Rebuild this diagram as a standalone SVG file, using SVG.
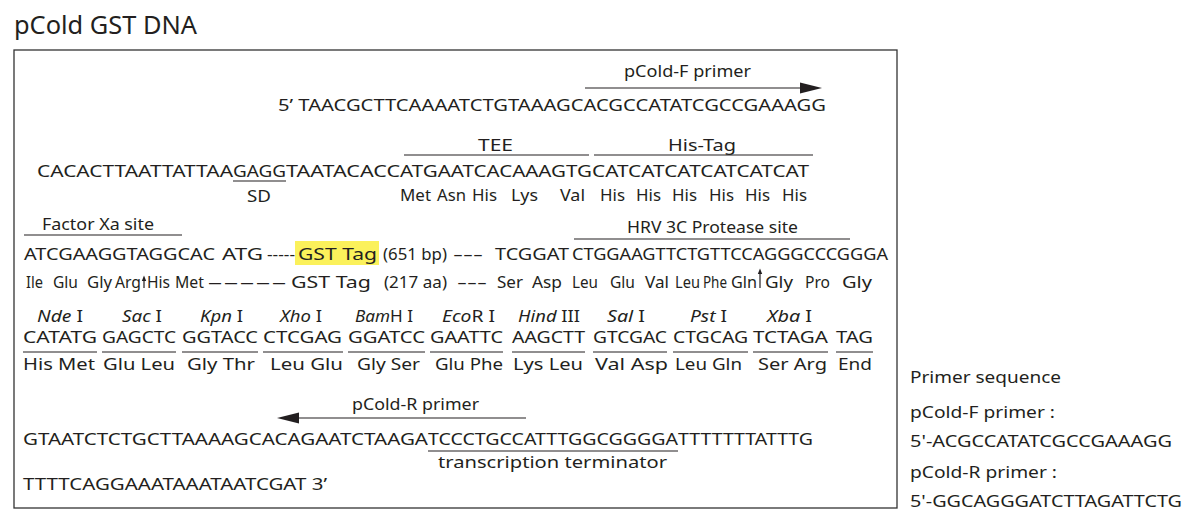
<svg xmlns="http://www.w3.org/2000/svg" width="1187" height="525" viewBox="0 0 1187 525">
<style>
text{font-family:"Noto Sans","Open Sans",sans-serif;font-size:17px;fill:#231f20}
.title{font-size:25px}
.ln{stroke:#231f20;stroke-width:1.2;fill:none}
.fr{stroke:#333;stroke-width:1.3;fill:none}
.it{font-style:italic}
.hl{fill:#fbf15b}
.ah{fill:#231f20}
</style>
<rect width="1187" height="525" fill="#fff"/>
<text class="title" x="14" y="34" textLength="183" lengthAdjust="spacingAndGlyphs">pCold GST DNA</text>
<rect id="frame" class="fr" x="14" y="50" width="883" height="458"/>

<g id="connectors">
  <path class="ln" d="M585 88H802"/>
  <polygon class="ah" points="800,82.5 822,88 800,93.5"/>
  <path class="ln" d="M297 418H526"/>
  <polygon class="ah" points="299,412.5 277,418 299,423.5"/>
  <path class="ln" d="M404 155H589M594 155H813"/>
  <path class="ln" d="M233 181H286"/>
  <path class="ln" d="M24 235H182M574 239H850"/>
  <path class="ln" d="M144 288V279M760 288V272"/>
  <polygon class="ah" points="141.8,281 144,275.5 146.2,281"/>
  <polygon class="ah" points="757.8,274 760,268.5 762.2,274"/>
  <path class="ln" d="M23 352H97M102 352H176M182 352H258M263 352H343M348 352H425M430 352H503M512 352H585M593 352H667M673 352H748M753 352H828M836 352H873"/>
  <path class="ln" d="M428 451H678"/>
</g>

<g id="line1">
  <text x="624" y="77" textLength="127" lengthAdjust="spacingAndGlyphs">pCold-F primer</text>
  <text x="278" y="111" textLength="548" lengthAdjust="spacingAndGlyphs">5’ TAACGCTTCAAAATCTGTAAAGCACGCCATATCGCCGAAAGG</text>
</g>

<g id="line2">
  <text x="478" y="151" textLength="35" lengthAdjust="spacingAndGlyphs">TEE</text>
  <text x="668" y="151" textLength="68" lengthAdjust="spacingAndGlyphs">His-Tag</text>
  <text x="37" y="177" textLength="196" lengthAdjust="spacingAndGlyphs">CACACTTAATTATTAA</text>
  <text x="233" y="177" textLength="53" lengthAdjust="spacingAndGlyphs">GAGG</text>
  <text x="286" y="177" textLength="114" lengthAdjust="spacingAndGlyphs">TAATACACC</text>
  <text x="400" y="177" textLength="192" lengthAdjust="spacingAndGlyphs">ATGAATCACAAAGTG</text>
  <text x="592" y="177" textLength="217" lengthAdjust="spacingAndGlyphs">CATCATCATCATCATCAT</text>
  <text x="247" y="202" textLength="24" lengthAdjust="spacingAndGlyphs">SD</text>
  <text x="400" y="201" textLength="31" lengthAdjust="spacingAndGlyphs">Met</text>
  <text x="437" y="201" textLength="29" lengthAdjust="spacingAndGlyphs">Asn</text>
  <text x="472" y="201" textLength="25" lengthAdjust="spacingAndGlyphs">His</text>
  <text x="511" y="201" textLength="27" lengthAdjust="spacingAndGlyphs">Lys</text>
  <text x="560" y="201" textLength="25" lengthAdjust="spacingAndGlyphs">Val</text>
  <text x="600" y="201" textLength="25" lengthAdjust="spacingAndGlyphs">His</text>
  <text x="636" y="201" textLength="25" lengthAdjust="spacingAndGlyphs">His</text>
  <text x="672" y="201" textLength="25" lengthAdjust="spacingAndGlyphs">His</text>
  <text x="709" y="201" textLength="25" lengthAdjust="spacingAndGlyphs">His</text>
  <text x="745" y="201" textLength="25" lengthAdjust="spacingAndGlyphs">His</text>
  <text x="782" y="201" textLength="25" lengthAdjust="spacingAndGlyphs">His</text>
</g>

<g id="line3">
  <text x="42" y="230" textLength="112" lengthAdjust="spacingAndGlyphs">Factor Xa site</text>
  <text x="627" y="233" textLength="171" lengthAdjust="spacingAndGlyphs">HRV 3C Protease site</text>
  <rect class="hl" x="295" y="241" width="84" height="24"/>
  <text x="24" y="260" textLength="191" lengthAdjust="spacingAndGlyphs">ATCGAAGGTAGGCAC</text>
  <text x="222" y="260" textLength="41" lengthAdjust="spacingAndGlyphs">ATG</text>
  <text x="267" y="260" textLength="28" lengthAdjust="spacingAndGlyphs">-----</text>
  <text x="298" y="260" textLength="79" lengthAdjust="spacingAndGlyphs">GST Tag</text>
  <text x="383" y="260" textLength="64" lengthAdjust="spacingAndGlyphs">(651 bp)</text>
  <text x="453" y="260" textLength="30" lengthAdjust="spacingAndGlyphs">---</text>
  <text x="495" y="260" textLength="74" lengthAdjust="spacingAndGlyphs">TCGGAT</text>
  <text x="572" y="260" textLength="316" lengthAdjust="spacingAndGlyphs">CTGGAAGTTCTGTTCCAGGGCCCGGGA</text>
  <text x="26" y="288" textLength="17" lengthAdjust="spacingAndGlyphs">Ile</text>
  <text x="53" y="288" textLength="25" lengthAdjust="spacingAndGlyphs">Glu</text>
  <text x="87" y="288" textLength="25" lengthAdjust="spacingAndGlyphs">Gly</text>
  <text x="115" y="288" textLength="26" lengthAdjust="spacingAndGlyphs">Arg</text>
  <text x="147" y="288" textLength="23" lengthAdjust="spacingAndGlyphs">His</text>
  <text x="175" y="288" textLength="29" lengthAdjust="spacingAndGlyphs">Met</text>
  <text x="207" y="288" textLength="80" lengthAdjust="spacingAndGlyphs">-----</text>
  <text x="291" y="288" textLength="80" lengthAdjust="spacingAndGlyphs">GST Tag</text>
  <text x="384" y="288" textLength="63" lengthAdjust="spacingAndGlyphs">(217 aa)</text>
  <text x="457" y="288" textLength="30" lengthAdjust="spacingAndGlyphs">---</text>
  <text x="497" y="288" textLength="26" lengthAdjust="spacingAndGlyphs">Ser</text>
  <text x="532" y="288" textLength="30" lengthAdjust="spacingAndGlyphs">Asp</text>
  <text x="572" y="288" textLength="26" lengthAdjust="spacingAndGlyphs">Leu</text>
  <text x="610" y="288" textLength="25" lengthAdjust="spacingAndGlyphs">Glu</text>
  <text x="645" y="288" textLength="24" lengthAdjust="spacingAndGlyphs">Val</text>
  <text x="675" y="288" textLength="25" lengthAdjust="spacingAndGlyphs">Leu</text>
  <text x="703" y="288" textLength="24" lengthAdjust="spacingAndGlyphs">Phe</text>
  <text x="731" y="288" textLength="26" lengthAdjust="spacingAndGlyphs">Gln</text>
  <text x="765" y="288" textLength="28" lengthAdjust="spacingAndGlyphs">Gly</text>
  <text x="805" y="288" textLength="25" lengthAdjust="spacingAndGlyphs">Pro</text>
  <text x="842" y="288" textLength="30" lengthAdjust="spacingAndGlyphs">Gly</text>
</g>

<g id="line4">
  <text x="37" y="322" textLength="46" lengthAdjust="spacingAndGlyphs"><tspan class="it">Nde</tspan> I</text>
  <text x="122" y="322" textLength="40" lengthAdjust="spacingAndGlyphs"><tspan class="it">Sac</tspan> I</text>
  <text x="200" y="322" textLength="43" lengthAdjust="spacingAndGlyphs"><tspan class="it">Kpn</tspan> I</text>
  <text x="280" y="322" textLength="42" lengthAdjust="spacingAndGlyphs"><tspan class="it">Xho</tspan> I</text>
  <text x="355" y="322" textLength="58" lengthAdjust="spacingAndGlyphs"><tspan class="it">Bam</tspan>H I</text>
  <text x="442" y="322" textLength="53" lengthAdjust="spacingAndGlyphs"><tspan class="it">Eco</tspan>R I</text>
  <text x="518" y="322" textLength="62" lengthAdjust="spacingAndGlyphs"><tspan class="it">Hind</tspan> III</text>
  <text x="607" y="322" textLength="38" lengthAdjust="spacingAndGlyphs"><tspan class="it">Sal</tspan> I</text>
  <text x="690" y="322" textLength="37" lengthAdjust="spacingAndGlyphs"><tspan class="it">Pst</tspan> I</text>
  <text x="767" y="322" textLength="45" lengthAdjust="spacingAndGlyphs"><tspan class="it">Xba</tspan> I</text>

  <text x="23" y="343" textLength="74" lengthAdjust="spacingAndGlyphs">CATATG</text>
  <text x="102" y="343" textLength="74" lengthAdjust="spacingAndGlyphs">GAGCTC</text>
  <text x="182" y="343" textLength="76" lengthAdjust="spacingAndGlyphs">GGTACC</text>
  <text x="263" y="343" textLength="79" lengthAdjust="spacingAndGlyphs">CTCGAG</text>
  <text x="348" y="343" textLength="77" lengthAdjust="spacingAndGlyphs">GGATCC</text>
  <text x="430" y="343" textLength="73" lengthAdjust="spacingAndGlyphs">GAATTC</text>
  <text x="512" y="343" textLength="73" lengthAdjust="spacingAndGlyphs">AAGCTT</text>
  <text x="593" y="343" textLength="74" lengthAdjust="spacingAndGlyphs">GTCGAC</text>
  <text x="673" y="343" textLength="75" lengthAdjust="spacingAndGlyphs">CTGCAG</text>
  <text x="753" y="343" textLength="75" lengthAdjust="spacingAndGlyphs">TCTAGA</text>
  <text x="836" y="343" textLength="37" lengthAdjust="spacingAndGlyphs">TAG</text>

  <text x="23" y="370" textLength="72" lengthAdjust="spacingAndGlyphs">His Met</text>
  <text x="103" y="370" textLength="72" lengthAdjust="spacingAndGlyphs">Glu Leu</text>
  <text x="187" y="370" textLength="68" lengthAdjust="spacingAndGlyphs">Gly Thr</text>
  <text x="270" y="370" textLength="73" lengthAdjust="spacingAndGlyphs">Leu Glu</text>
  <text x="357" y="370" textLength="63" lengthAdjust="spacingAndGlyphs">Gly Ser</text>
  <text x="435" y="370" textLength="68" lengthAdjust="spacingAndGlyphs">Glu Phe</text>
  <text x="513" y="370" textLength="70" lengthAdjust="spacingAndGlyphs">Lys Leu</text>
  <text x="595" y="370" textLength="73" lengthAdjust="spacingAndGlyphs">Val Asp</text>
  <text x="675" y="370" textLength="67" lengthAdjust="spacingAndGlyphs">Leu Gln</text>
  <text x="758" y="370" textLength="69" lengthAdjust="spacingAndGlyphs">Ser Arg</text>
  <text x="838" y="370" textLength="34" lengthAdjust="spacingAndGlyphs">End</text>
</g>

<g id="line5">
  <text x="352" y="410" textLength="127" lengthAdjust="spacingAndGlyphs">pCold-R primer</text>
  <text x="23" y="445" textLength="405" lengthAdjust="spacingAndGlyphs">GTAATCTCTGCTTAAAAGCACAGAATCTAAGA</text>
  <text x="428" y="445" textLength="250" lengthAdjust="spacingAndGlyphs">TCCCTGCCATTTGGCGGGGA</text>
  <text x="678" y="445" textLength="135" lengthAdjust="spacingAndGlyphs">TTTTTTTATTTG</text>
  <text x="438" y="468" textLength="229" lengthAdjust="spacingAndGlyphs">transcription terminator</text>
  <text x="23" y="490" textLength="304" lengthAdjust="spacingAndGlyphs">TTTTCAGGAAATAAATAATCGAT 3’</text>
</g>

<g id="primers">
  <text x="910" y="383" textLength="151" lengthAdjust="spacingAndGlyphs">Primer sequence</text>
  <text x="910" y="418" textLength="145" lengthAdjust="spacingAndGlyphs">pCold-F primer :</text>
  <text x="910" y="447" textLength="262" lengthAdjust="spacingAndGlyphs">5'-ACGCCATATCGCCGAAAGG</text>
  <text x="910" y="478" textLength="147" lengthAdjust="spacingAndGlyphs">pCold-R primer :</text>
  <text x="910" y="507" textLength="272" lengthAdjust="spacingAndGlyphs">5'-GGCAGGGATCTTAGATTCTG</text>
</g>
</svg>
